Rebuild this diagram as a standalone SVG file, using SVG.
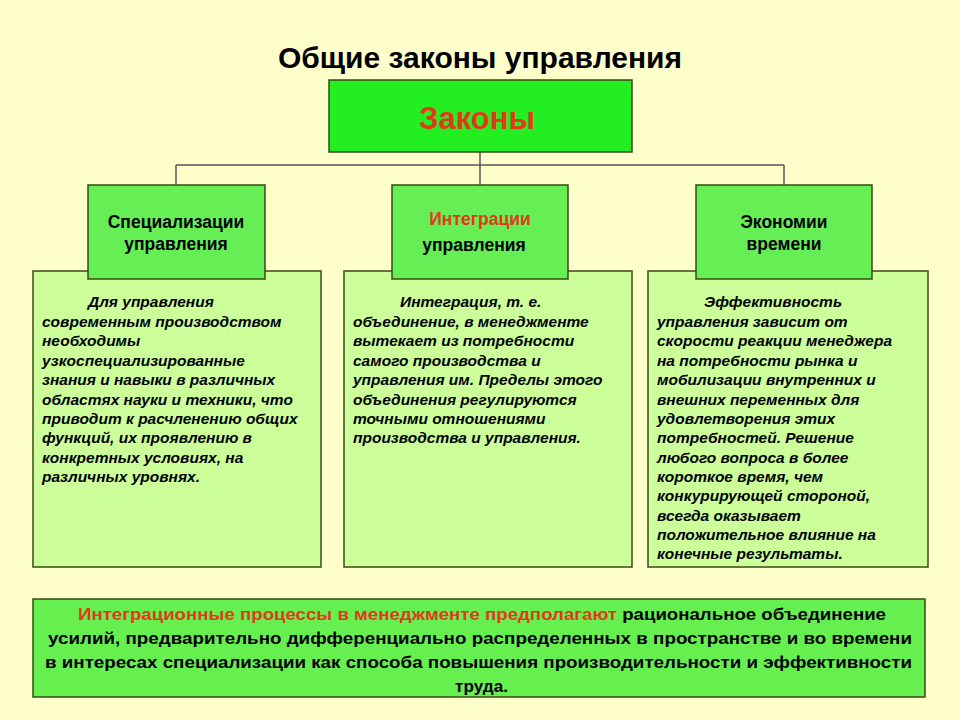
<svg xmlns="http://www.w3.org/2000/svg" width="960" height="720" viewBox="0 0 960 720">
<style>
.t{font-family:"Liberation Sans",Arial,sans-serif;font-weight:bold;fill:#000}
.sub{fill:#66EE55;stroke:#3A4A10;stroke-width:1.5}
.det{fill:#CCFF99;stroke:#3A4A10;stroke-width:1.5}
.st{font-size:17.5px;text-anchor:middle}
.dt{font-size:15.5px;font-style:italic}
.bt{font-size:17px}
</style>
<rect width="960" height="720" fill="#FFFFCC"/>
<text class="t" x="480" y="68" font-size="30" text-anchor="middle">Общие законы управления</text>
<g id="connectors" stroke="#555" stroke-width="1.5" fill="none">
<path d="M480 152V165M176 165H784M176 165V185M480 165V185M784 165V185"/>
</g>
<g id="root"><rect x="329" y="80" width="303" height="72" fill="#22EE22" stroke="#3A4A10" stroke-width="1.5"/>
<text class="t" x="477" y="129" font-size="31" text-anchor="middle" style="fill:#E03A1A">Законы</text></g>
<g id="d1"><rect class="det" x="33" y="271" width="288" height="296"/>
<text class="t dt"><tspan x="88" y="307">Для управления</tspan><tspan x="42" y="327">современным производством</tspan><tspan x="42" y="346">необходимы</tspan><tspan x="42" y="366">узкоспециализированные</tspan><tspan x="42" y="385">знания и навыки в различных</tspan><tspan x="42" y="405">областях науки и техники, что</tspan><tspan x="42" y="424">приводит к расчленению общих</tspan><tspan x="42" y="443">функций, их проявлению в</tspan><tspan x="42" y="463">конкретных условиях, на</tspan><tspan x="42" y="482">различных уровнях.</tspan></text></g>
<g id="d2"><rect class="det" x="344" y="271" width="288" height="296"/>
<text class="t dt"><tspan x="400" y="307">Интеграция, т. е.</tspan><tspan x="353" y="327">объединение, в менеджменте</tspan><tspan x="353" y="346">вытекает из потребности</tspan><tspan x="353" y="366">самого производства и</tspan><tspan x="353" y="385">управления им. Пределы этого</tspan><tspan x="353" y="405">объединения регулируются</tspan><tspan x="353" y="424">точными отношениями</tspan><tspan x="353" y="443">производства и управления.</tspan></text></g>
<g id="d3"><rect class="det" x="648" y="271" width="280" height="296"/>
<text class="t dt"><tspan x="704" y="307">Эффективность</tspan><tspan x="657" y="327">управления зависит от</tspan><tspan x="657" y="346">скорости реакции менеджера</tspan><tspan x="657" y="366">на потребности рынка и</tspan><tspan x="657" y="385">мобилизации внутренних и</tspan><tspan x="657" y="405">внешних переменных для</tspan><tspan x="657" y="424">удовлетворения этих</tspan><tspan x="657" y="443">потребностей. Решение</tspan><tspan x="657" y="463">любого вопроса в более</tspan><tspan x="657" y="482">короткое время, чем</tspan><tspan x="657" y="501">конкурирующей стороной,</tspan><tspan x="657" y="521">всегда оказывает</tspan><tspan x="657" y="540">положительное влияние на</tspan><tspan x="657" y="559">конечные результаты.</tspan></text></g>
<g id="s1"><rect class="sub" x="88" y="185" width="177" height="94"/>
<text class="t st"><tspan x="176" y="228">Специализации</tspan><tspan x="176" y="250">управления</tspan></text></g>
<g id="s2"><rect class="sub" x="392" y="185" width="176" height="94"/>
<text class="t st"><tspan x="480" y="225" style="fill:#E03A1A">Интеграции</tspan><tspan x="474" y="251">управления</tspan></text></g>
<g id="s3"><rect class="sub" x="696" y="185" width="176" height="94"/>
<text class="t st"><tspan x="784" y="228">Экономии</tspan><tspan x="784" y="250">времени</tspan></text></g>
<g id="bottom"><rect x="33" y="599" width="892" height="98" fill="#66F050" stroke="#3A4A10" stroke-width="1.5"/>
<text class="t bt" x="78" y="620" textLength="808" lengthAdjust="spacingAndGlyphs"><tspan style="fill:#E03A1A">Интеграционные процессы в менеджменте предполагают</tspan> рациональное объединение</text>
<text class="t bt" x="48" y="644" textLength="864" lengthAdjust="spacingAndGlyphs">усилий, предварительно  дифференциально распределенных в пространстве и во времени</text>
<text class="t bt" x="45" y="668" textLength="867" lengthAdjust="spacingAndGlyphs">в интересах специализации как способа повышения производительности и эффективности</text>
<text class="t bt" x="455" y="692" textLength="53" lengthAdjust="spacingAndGlyphs">труда.</text></g>
</svg>
